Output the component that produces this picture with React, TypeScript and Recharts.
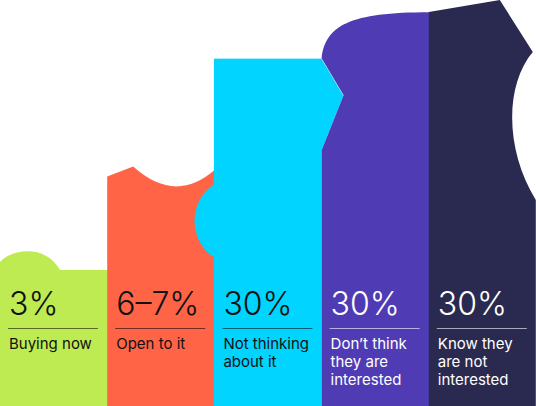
import { BarChart, Bar, XAxis, YAxis } from 'recharts'

const categories = ['Buying now', 'Open to it', 'Not thinking about it', 'Don’t think they are interested', 'Know they are not interested']
const shares = ['3%', '6–7%', '30%', '30%', '30%']
// step heights of the columns, 0–100 scale
const levels = [33.5, 56.5, 85.5, 97, 100]
const labelLines = [
  ['Buying now'],
  ['Open to it'],
  ['Not thinking', 'about it'],
  ['Don’t think', 'they are', 'interested'],
  ['Know they', 'are not', 'interested'],
]

const fills = ['#BEEA52', '#FF6447', '#00D4FF', '#4F3BB4', '#2A2950']
const textColors = ['#111', '#111', '#111', '#fff', '#fff']
const ruleColors = ['rgba(0,0,0,0.55)', 'rgba(0,0,0,0.55)', 'rgba(0,0,0,0.55)', 'rgba(255,255,255,0.6)', 'rgba(255,255,255,0.6)']

const W = 536
const H = 406

const data = categories.map((c, i) => ({ cat: c, level: levels[i], share: shares[i], lines: labelLines[i] }))

function piecePath(i: number, x: number, y: number, w: number, b: number) {
  // right edge pushed a px so neighbouring pieces overlap without a seam
  const r = x + w + 1
  switch (i) {
    case 0:
      return `M${x},${b} L${x},${y - 8} C${x + 10},${y - 20} ${x + 45},${y - 27} ${x + 0.56 * w},${y} L${r},${y} L${r},${b} Z`
    case 1:
      return `M${x},${b} L${x},${y} L${x + 26},${y - 10} Q${x + 68},${y + 28} ${r},${y - 7} L${r},${b} Z`
    case 2:
      return `M${x},${b} L${x},${y} L${x + w},${y} L${x + w + 22},${y + 37} L${x + w},${y + 92} L${x + w},${b} Z`
    case 3:
      return `M${x},${b} L${x},${y + 138} L${x + 22},${y + 83} L${x},${y + 46} C${x + 4},${y + 13} ${x + 28},${y} ${r},${y} L${r},${b} Z`
    default:
      return `M${x},${b} L${x},${y + 12} L${x + 71},${y} L${x + w - 3},${y + 52} C${x + w - 31},${y + 85} ${x + w - 31},${y + 150} ${x + w},${y + 200} L${x + w},${b} Z`
  }
}

function Piece(props: any) {
  const { x, y, width, height, index, payload } = props
  const b = y + height
  const i = index as number
  return (
    <g>
      <path d={piecePath(i, x, y, width, b)} fill={fills[i]} />
      {i === 2 && <circle cx={x + 24} cy={y + 162} r={44} fill={fills[i]} />}
      {i === 2 && <rect x={x - 0.5} y={y} width={width + 0.5} height={b - y} fill={fills[i]} />}
      <text x={x + 9} y={b - 91} fontSize={32} fontWeight={300} fill={textColors[i]} fontFamily="Inter, sans-serif">
        {payload.share}
      </text>
      <line x1={x + 8} x2={x + width - 9} y1={b - 77.5} y2={b - 77.5} stroke={ruleColors[i]} strokeWidth={1} />
      {(payload.lines as string[]).map((t, k) => (
        <text key={k} x={x + 9} y={b - 57 + k * 18} fontSize={15} fill={textColors[i]} fontFamily="Inter, sans-serif">
          {t}
        </text>
      ))}
    </g>
  )
}

export default function App() {
  return (
    <div style={{ position: 'absolute', left: 0, top: 0, width: W, height: H, background: '#fff' }}>
      <BarChart width={W} height={H} data={data} margin={{ top: 0, right: 0, bottom: 0, left: 0 }} barCategoryGap={0}>
        <XAxis dataKey="cat" hide />
        <YAxis hide domain={[0, 100]} />
        <Bar dataKey="level" isAnimationActive={false} shape={(p: any) => <Piece {...p} />} />
      </BarChart>
    </div>
  )
}
